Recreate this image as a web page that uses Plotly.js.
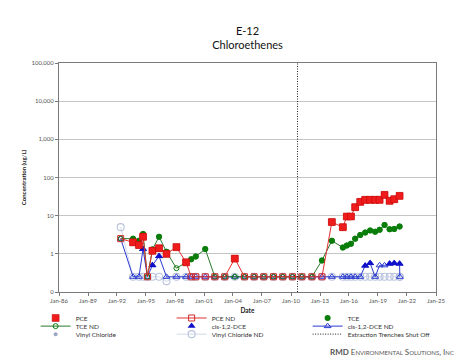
<!DOCTYPE html>
<html><head><meta charset="utf-8">
<script src="https://cdn.plot.ly/plotly-3.0.1.min.js"></script>
<style>html,body{margin:0;padding:0;background:#fff}#chart{width:474px;height:364px}</style>
</head><body><div id="chart"></div>
<script>
// ---- data ----
const sampleDates = ['1992-05-20','1993-08-30','1994-04-10','1994-09-12','1995-02-25','1995-09-01','1996-05-08','1997-02-14','1998-02-24','1999-02-24',
  '1999-09-05','2000-02-24','2001-02-17','2002-02-14','2003-02-24','2004-03-10','2005-03-10','2006-03-10','2007-03-10','2008-03-10',
  '2009-02-24','2010-02-24','2011-02-14','2012-03-01','2013-03-15','2014-03-25','2015-05-15','2015-10-12','2016-03-15','2016-08-22',
  '2017-03-01','2017-09-05','2018-03-10','2018-09-15','2019-03-03','2019-09-06','2020-03-15','2020-09-06','2021-03-27','2021-04-05'];

const pceValues = [2.5,2.0,1.7,2.8,0.25,1.2,1.4,1.0,1.5,0.6,
  0.25,0.25,0.25,0.25,0.25,0.75,0.25,0.25,0.25,0.25,
  0.25,0.25,0.25,0.25,0.25,6.8,5,9.5,9.5,16.7,
  23,26,26,26,26,35,24.5,27,33,null];
const pceDetected = [0,1,1,1,0,1,1,1,1,1, 0,0,0,0,0,1,0,0,0,0, 0,0,0,0,0,1,1,1,1,1, 1,1,1,1,1,1,1,1,1,0];

const tceValues = [2.5,2.5,2.2,3.3,0.25,1.3,2.8,1.13,0.42,0.6,
  0.72,0.85,1.33,0.25,0.25,0.25,0.25,0.25,0.25,0.25,
  0.25,0.25,0.25,0.25,0.67,2.2,1.46,1.65,1.83,2.5,
  3.1,3.6,4.1,3.8,4.25,5.7,4.4,4.5,5.2,null];
const tceDetected = [0,1,1,1,0,1,1,1,0,1, 1,1,1,0,0,0,0,0,0,0, 0,0,0,0,1,1,1,1,1,1, 1,1,1,1,1,1,1,1,1,0];

const dceValues = [2.5,0.25,0.25,1.33,0.25,0.5,0.87,0.25,0.25,0.25,
  0.25,0.25,0.25,0.25,0.25,0.25,0.25,0.25,0.25,0.25,
  0.25,0.25,0.25,0.25,0.25,0.25,0.25,0.25,0.25,0.25,
  0.25,0.49,0.57,0.25,0.5,0.5,0.55,0.57,0.55,0.25];
const dceDetected = [0,0,0,1,0,1,1,0,0,0, 0,0,0,0,0,0,0,0,0,0, 0,0,0,0,0,0,0,0,0,0, 0,1,1,0,0,0,1,1,1,0];

const vcValues = [5,0.25,0.25,0.25,0.25,0.25,0.25,0.19,0.25,0.25,
  0.25,0.25,0.25,0.25,0.25,0.25,0.25,0.25,0.25,0.25,
  0.25,0.25,0.25,0.25,0.25,0.25,0.25,0.25,0.25,0.25,
  0.25,0.25,0.25,0.25,0.25,0.25,0.25,0.25,0.25,0.25];
const vcDetected = [0,0,0,0,0,0,0,0,0,0, 0,0,0,0,0,0,0,0,0,0, 0,0,0,0,0,0,0,0,0,0, 0,0,0,0,0,0,0,0,0,0];

const shutOffDate = '2010-09-05';

const xTickDates = ['1986-01-01','1989-01-01','1992-01-01','1995-01-01','1998-01-01','2001-01-01','2004-01-01',
  '2007-01-01','2010-01-01','2013-01-01','2016-01-01','2019-01-01','2022-01-01','2025-01-01'];
const xTickLabels = ['Jan-86','Jan-89','Jan-92','Jan-95','Jan-98','Jan-01','Jan-04','Jan-07','Jan-10','Jan-13','Jan-16','Jan-19','Jan-22','Jan-25'];
const yTickValues = [0.1,1,10,100,1000,10000,100000];
const yTickLabels = ['0','1','10','100','1,000','10,000','100,000'];

// ---- build traces ----
function detectedOnly(vals, flags){ return vals.map((v,i)=> flags[i] ? v : null); }

const RED='#ee1c1c', GREEN='#0a7d0a', BLUE='#1010c8', VC='#b9c3dc';

const traces = [
  {name:'Vinyl Chloride ND', x:sampleDates, y:vcValues, mode:'lines+markers', legend:'legend3', legendrank:2,
   line:{color:'#d3d9ea', width:1}, marker:{symbol:'circle-open', size:7, color:VC, line:{width:1.1}}},
  {name:'Vinyl Chloride', x:sampleDates, y:detectedOnly(vcValues, vcDetected), mode:'markers', legend:'legend3', legendrank:1,
   marker:{symbol:'circle', size:4, color:'#9aa6c4'}},
  {name:'cis-1,2-DCE ND', x:sampleDates, y:dceValues, mode:'lines+markers', legend:'legend2', legendrank:3,
   line:{color:'#2a3ad0', width:1}, marker:{symbol:'triangle-up-open', size:6, color:'#2a3ad0', line:{width:1}}},
  {name:'cis-1,2-DCE', x:sampleDates, y:detectedOnly(dceValues, dceDetected), mode:'markers', legend:'legend2', legendrank:2,
   marker:{symbol:'triangle-up', size:7, color:BLUE}},
  {name:'TCE ND', x:sampleDates, y:tceValues, mode:'lines+markers', legend:'legend2', legendrank:1,
   line:{color:'#2c7a2c', width:1}, marker:{symbol:'circle-open', size:5, color:GREEN, line:{width:1}}},
  {name:'TCE', x:sampleDates, y:detectedOnly(tceValues, tceDetected), mode:'markers', legend:'legend', legendrank:3,
   marker:{symbol:'circle', size:6, color:GREEN}},
  {name:'PCE ND', x:sampleDates, y:pceValues, mode:'lines+markers', legend:'legend', legendrank:2,
   line:{color:'#e03030', width:1}, marker:{symbol:'square-open', size:6, color:'#d02828', line:{width:1}}},
  {name:'PCE', x:sampleDates, y:detectedOnly(pceValues, pceDetected), mode:'markers', legend:'legend', legendrank:1,
   marker:{symbol:'square', size:7, color:RED, line:{color:'#c00000', width:0.5}}},
  {name:'Extraction Trenches Shut Off', x:[shutOffDate, shutOffDate], y:[yTickValues[0], yTickValues[yTickValues.length-1]],
   mode:'lines', legend:'legend3', legendrank:3, line:{color:'#222', width:1, dash:'1px,1.5px'}}
];

const legendBase = {orientation:'h', xanchor:'left', yanchor:'middle', x:-0.062, entrywidth:91, entrywidthmode:'pixels',
  font:{size:6.5, color:'#333'}, bgcolor:'rgba(0,0,0,0)', traceorder:'normal', itemwidth:30};

const layout = {
  width:474, height:364,
  margin:{l:59, r:38, t:63, b:72},
  paper_bgcolor:'#fff', plot_bgcolor:'#fff',
  font:{family:'Lato, "Open Sans", sans-serif', size:6, color:'#444'},
  title:{text:'E-12<br>Chloroethenes', x:0.5, xanchor:'center', xref:'paper', y:0.905, yanchor:'middle', yref:'container',
    font:{size:11, color:'#111', family:'Lato, "Open Sans", sans-serif'}},
  xaxis:{type:'date', range:['1986-01-01','2025-01-01'], tickmode:'array', tickvals:xTickDates, ticktext:xTickLabels,
    showgrid:false, showline:true, linecolor:'#7a7a7a', linewidth:1, mirror:true, ticks:'outside', ticklen:3, tickcolor:'#7a7a7a',
    tickfont:{size:6, color:'#555'}, zeroline:false,
    title:{text:'<b>Date</b>', font:{size:6.5, color:'#222'}, standoff:5}},
  yaxis:{type:'log', range:[-1,5], tickmode:'array', tickvals:yTickValues, ticktext:yTickLabels,
    showgrid:true, gridcolor:'#c4c4c4', gridwidth:1, showline:true, linecolor:'#7a7a7a', linewidth:1, mirror:true,
    ticks:'outside', ticklen:3, tickcolor:'#7a7a7a', tickfont:{size:6, color:'#555'}, zeroline:false,
    title:{text:'<b>Concentration (ug/L)</b>', font:{size:6, color:'#222'}, standoff:4}},
  legend: Object.assign({}, legendBase, {y:-0.1135}),
  legend2: Object.assign({}, legendBase, {y:-0.149}),
  legend3: Object.assign({}, legendBase, {y:-0.184}),
  showlegend:true,
  annotations:[{xref:'paper', yref:'paper', x:1.052, y:-0.262, xanchor:'right', yanchor:'middle', showarrow:false,
    text:'<b>RMD</b> E<span style="font-size:6px">NVIRONMENTAL</span> S<span style="font-size:6px">OLUTIONS</span>, I<span style="font-size:6px">NC</span>',
    font:{size:8, color:'#555', family:'Lato, "Open Sans", sans-serif'}}]
};

Plotly.newPlot('chart', traces, layout, {displayModeBar:false, staticPlot:true});
</script>
</body></html>
